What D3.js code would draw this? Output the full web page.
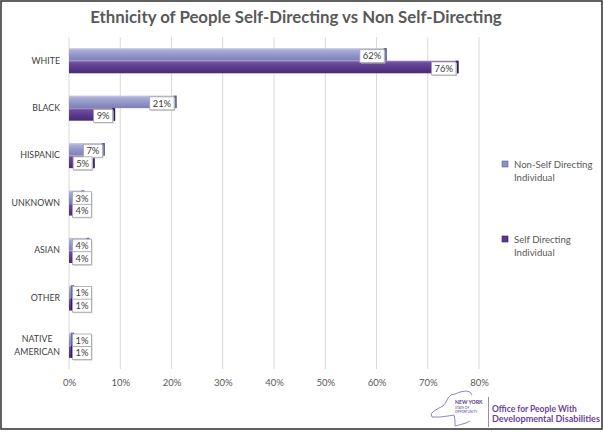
<!DOCTYPE html>
<html>
<head>
<meta charset="utf-8">
<script src="https://cdn.jsdelivr.net/npm/d3@7"></script>
<style>
  html, body { margin: 0; padding: 0; background: #ffffff; }
  svg { display: block; }
  text { font-family: Lato, "Open Sans", "DejaVu Sans", sans-serif; }
</style>
</head>
<body>
<svg id="chart" width="604" height="432"></svg>
<script>
// ---- data ----
const categories = ["WHITE", "BLACK", "HISPANIC", "UNKNOWN", "ASIAN", "OTHER", "NATIVE AMERICAN"];
const seriesNames = ["Non-Self Directing Individual", "Self Directing Individual"];
const nonSelfValues = [62, 21, 7, 3, 4, 1, 1];
const selfValues = [76, 9, 5, 4, 4, 1, 1];
const tickValues = [0, 10, 20, 30, 40, 50, 60, 70, 80];
const titleText = "Ethnicity of People Self-Directing vs Non Self-Directing";
const logoLines = ["Office for People With", "Developmental Disabilities"];

const svg = d3.select("#chart");

// frame
svg.append("rect").attr("x", 1).attr("y", 1).attr("width", 601).attr("height", 428)
  .attr("fill", "#fff").attr("stroke", "#3a3a3a").attr("stroke-width", 1.6);

const defs = svg.append("defs");
function grad(id, stops) {
  const g = defs.append("linearGradient").attr("id", id).attr("x1", 0).attr("y1", 0).attr("x2", 0).attr("y2", 1);
  stops.forEach(s => g.append("stop").attr("offset", s[0]).attr("stop-color", s[1]));
}
grad("gNon", [[0, "#c9cbe9"], [0.18, "#a9acd8"], [0.55, "#9296c6"], [1, "#7d81b2"]]);
grad("gSelf", [[0, "#9c80c6"], [0.18, "#6b4b9e"], [0.55, "#5a3a8b"], [1, "#472a74"]]);
const fills = ["url(#gNon)", "url(#gSelf)"];
const caps = ["#5f6391", "#331c58"];
const swatch = ["#8e92c3", "#5a3a8b"];

// scales
const x = d3.scaleLinear().domain([0, 80]).range([69, 479]);
const y = d3.scaleBand().domain(categories).range([37, 369]).paddingInner(0.47).paddingOuter(0.235);
const ys = d3.scaleBand().domain([0, 1]).range([0, y.bandwidth()]);

// gridlines
svg.append("g").selectAll("line").data(tickValues).join("line")
  .attr("x1", d => x(d)).attr("x2", d => x(d))
  .attr("y1", 37).attr("y2", 369)
  .attr("stroke", "#d9d9d9").attr("stroke-width", 1);

// x axis
const xAxis = svg.append("g").attr("transform", "translate(0,369)")
  .call(d3.axisBottom(x).tickValues(tickValues).tickFormat(d => d + "%").tickSize(0).tickPadding(10));
xAxis.select(".domain").remove();
xAxis.selectAll("text").attr("fill", "#595959").attr("font-size", 9.5)
  .style("font-family", "Lato, 'Open Sans', sans-serif");

// y axis (category labels)
const yAxis = svg.append("g").attr("transform", "translate(69,0)")
  .call(d3.axisLeft(y).tickSize(0).tickPadding(9));
yAxis.select(".domain").remove();
yAxis.selectAll("text").attr("fill", "#404040").attr("font-size", 8.8)
  .style("font-family", "Lato, 'Open Sans', sans-serif")
  .each(function(d) {
    const words = d.split(" ");
    if (words.length > 1) {
      const t = d3.select(this);
      t.text(null);
      const tmp = [];
      words.forEach((w, i) => {
        tmp.push(t.append("tspan").text(w).attr("dy", i === 0 ? "-0.4em" : "1.5em"));
      });
      const widths = tmp.map(s => s.node().getComputedTextLength());
      const mx = d3.max(widths);
      t.attr("text-anchor", "middle");
      tmp.forEach(s => s.attr("x", -9 - mx / 2));
    }
  });

// bars
const series = [nonSelfValues, selfValues];
const labelLayer = [];
categories.forEach((c, ci) => {
  series.forEach((vals, si) => {
    const v = vals[ci];
    const y0 = y(c) + ys(si);
    const h = ys.bandwidth();
    const x0 = x(0), x1 = x(v);
    svg.append("rect").attr("x", x0).attr("y", y0).attr("width", Math.max(0, x1 - x0)).attr("height", h)
      .attr("fill", fills[si]);
    svg.append("rect").attr("x", Math.max(x0, x1 - 3)).attr("y", y0).attr("width", Math.min(3, x1 - x0)).attr("height", h)
      .attr("fill", caps[si]);
    labelLayer.push({ v, x1, yc: y0 + h / 2 + 1.5 });
  });
});

// data labels
labelLayer.forEach(d => {
  const g = svg.append("g");
  const r = g.append("rect");
  const t = g.append("text").text(d.v + "%").attr("font-size", 9.4).attr("fill", "#404040")
    .attr("text-anchor", "middle").attr("dy", "0.35em");
  const tw = t.node().getComputedTextLength();
  const bw = tw + 6, bh = 13;
  let right = d.x1 - 3;
  let left = right - bw;
  if (left < x(0) + 3) { left = x(0) + 3; right = left + bw; }
  r.attr("x", left + 0.5).attr("y", d.yc - bh / 2).attr("width", bw).attr("height", bh)
    .attr("fill", "#fff").attr("stroke", "#a6a6a6").attr("stroke-width", 0.8);
  g.insert("rect", "rect").attr("x", left + 1.5).attr("y", d.yc - bh / 2 + 1).attr("width", bw).attr("height", bh)
    .attr("fill", "#c8c8c8");
  t.attr("x", left + 0.5 + bw / 2).attr("y", d.yc);
});

// title
const title = svg.append("text").attr("x", 296).attr("y", 23).attr("text-anchor", "middle")
  .attr("fill", "#595959").attr("font-weight", 700).attr("font-size", 18).text(titleText);
(function fit() {
  const w = title.node().getComputedTextLength();
  title.attr("font-size", 18 * 412 / w);
})();

// legend
const legY = [164, 239];
seriesNames.forEach((name, i) => {
  svg.append("rect").attr("x", 502).attr("y", legY[i] - 3).attr("width", 6).attr("height", 6)
    .attr("fill", swatch[i]).attr("stroke", caps[i]).attr("stroke-width", 0.6);
  const parts = i === 0 ? ["Non-Self Directing", "Individual"] : ["Self Directing", "Individual"];
  parts.forEach((p, j) => {
    svg.append("text").attr("x", 514).attr("y", legY[i] + 4 + j * 13).attr("font-size", 9.6)
      .attr("fill", "#595959").text(p);
  });
});

// logo
const logo = svg.append("g");
const nyShape = [[431,414],[434,411],[439,408],[443,406],[446,402],[448,398],[451,395],[455,394],[460,392],[466,391],[470,392],[472,395]];
const nyBottom = [[431,414],[432,417],[440,417],[448,416],[454,415],[455,420],[455,426],[459,425],[466,423],[470,421]];
logo.append("path").attr("d", d3.line()(nyShape)).attr("fill", "none").attr("stroke", "#8a78b0").attr("stroke-width", 0.9);
logo.append("path").attr("d", d3.line()(nyBottom)).attr("fill", "none").attr("stroke", "#8a78b0").attr("stroke-width", 0.9);
logo.append("text").attr("x", 455).attr("y", 404).attr("font-size", 5.2).attr("font-weight", 700).attr("fill", "#5a3a8b").text("NEW YORK");
logo.append("text").attr("x", 455).attr("y", 409).attr("font-size", 3.2).attr("fill", "#5a3a8b").text("STATE OF");
logo.append("text").attr("x", 455).attr("y", 413).attr("font-size", 3.2).attr("fill", "#5a3a8b").text("OPPORTUNITY.");
logo.append("line").attr("x1", 488.5).attr("x2", 488.5).attr("y1", 397).attr("y2", 427).attr("stroke", "#9a8bb8").attr("stroke-width", 1);
const lw = [85, 108];
logoLines.forEach((l, i) => {
  const t = logo.append("text").attr("x", 492).attr("y", 412 + i * 10).attr("font-size", 10).attr("font-weight", 700)
    .attr("fill", "#6b3fa0").text(l);
  const w = t.node().getComputedTextLength();
  t.attr("font-size", 10 * lw[i] / w);
});
</script>
</body>
</html>
